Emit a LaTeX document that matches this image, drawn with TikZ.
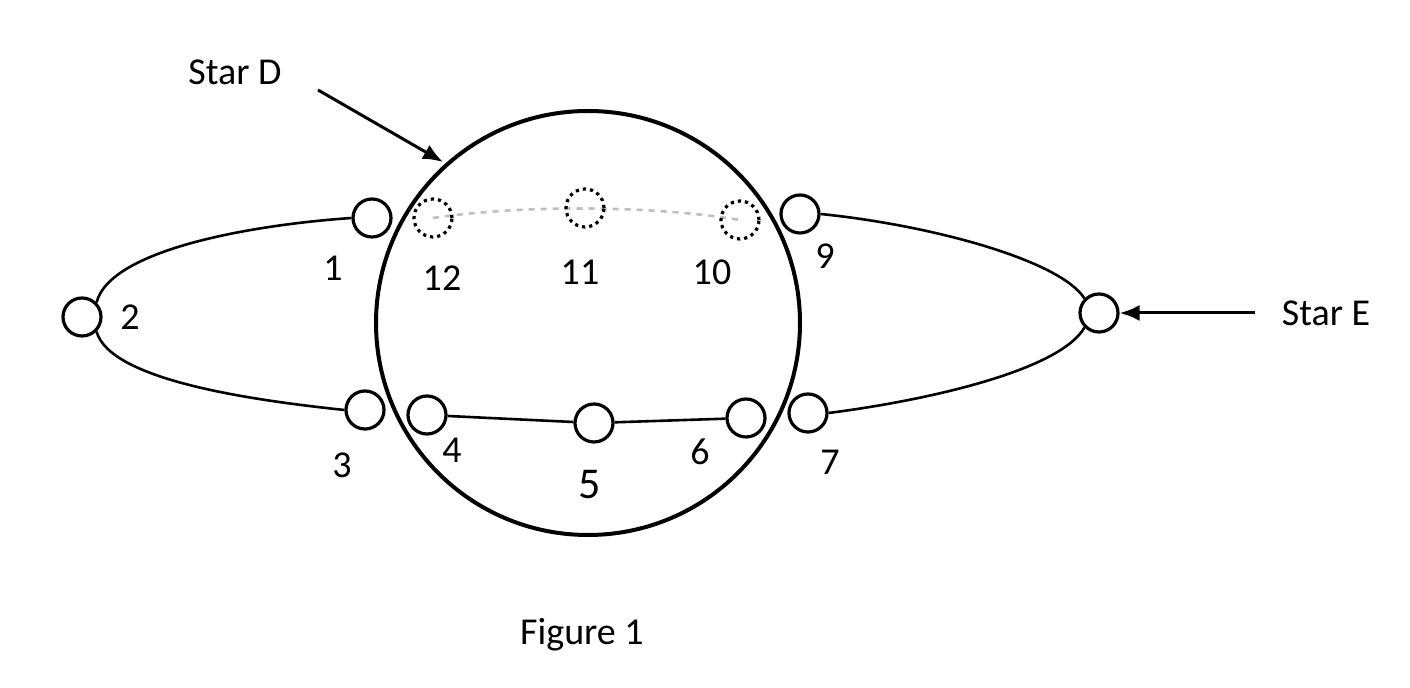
\documentclass[tikz,border=0pt]{standalone}
\usepackage{fontspec}
\setmainfont{Carlito}
\usetikzlibrary{arrows.meta}
\begin{document}
\begin{tikzpicture}[x=0.5pt,y=-0.5pt,
  sm/.style={circle,draw,line width=1.6pt,fill=white,minimum size=19pt,inner sep=0pt},
  dsm/.style={circle,draw,dotted,line width=1.6pt,minimum size=19pt,inner sep=0pt},
  lab/.style={font=\fontsize{19}{19}\selectfont},
  conn/.style={line width=1.3pt}]
\useasboundingbox (0,0) rectangle (1410,688);
\node[circle,draw,line width=2pt,minimum size=212pt,inner sep=0pt] (D) at (588,323) {};
\draw[gray!50,dashed,line width=1.3pt] (433,218) .. controls (520,205) and (650,205) .. (740,220);
\node[sm] (n1) at (372,218) {};
\node[sm] (n2) at (82,317) {};
\node[sm] (n3) at (365,410) {};
\node[sm] (n4) at (427,415) {};
\node[sm] (n5) at (594,423) {};
\node[sm] (n6) at (746,418) {};
\node[sm] (n7) at (808,413) {};
\node[sm] (n9) at (800,214) {};
\node[sm] (E) at (1099,313) {};
\node[dsm] (n12) at (433,218) {};
\node[dsm] (n11) at (585,208) {};
\node[dsm] (n10) at (740,220) {};
\draw[conn] (n1.west) .. controls (250,225) and (110,250) .. (n2.north east);
\draw[conn] (n2.south east) .. controls (110,380) and (250,400) .. (n3.west);
\draw[conn] (n9.east) .. controls (930,225) and (1060,260) .. (E.north west);
\draw[conn] (E.south west) .. controls (1060,370) and (930,400) .. (n7.east);
\draw[conn] (n4) -- (n5) -- (n6);
\node[lab] at (333,268) {1};
\node[lab] at (130,317) {2};
\node[lab] at (342,465) {3};
\node[lab] at (452,450) {4};
\node[lab,font=\fontsize{22}{22}\selectfont] at (590,485) {5};
\node[lab] at (700,452) {6};
\node[lab] at (830,462) {7};
\node[lab] at (825,256) {9};
\node[lab] at (442,278) {12};
\node[lab] at (580,272) {11};
\node[lab] at (712,272) {10};
\node[lab] (sd) at (235,72) {Star D};
\node[lab] (se) at (1326,313) {Star E};
\node[lab] (fig) at (582,635) {Figure 1};
\coordinate (sdt) at (318,90);
\coordinate (set) at (1255,313);
\draw[line width=1.5pt,-{Latex[length=10pt,width=8pt]}] (sdt) -- (443,162);
\draw[line width=1.5pt,-{Latex[length=10pt,width=8pt]}] (set) -- (E);
\end{tikzpicture}
\end{document}
